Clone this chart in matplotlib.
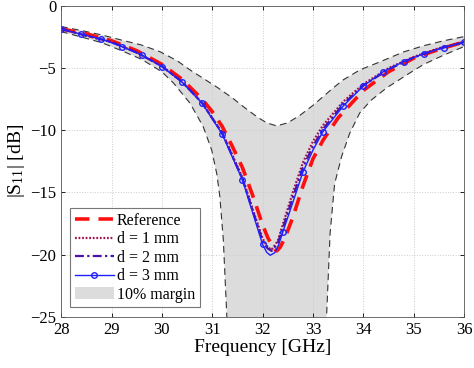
import numpy as np
import matplotlib
matplotlib.use("Agg")
import matplotlib.pyplot as plt

plt.rcParams['font.family'] = 'Liberation Serif'
plt.rcParams['mathtext.fontset'] = 'custom'
plt.rcParams['mathtext.rm'] = 'Liberation Serif'
plt.rcParams['mathtext.it'] = 'Liberation Serif:italic'

# reference curve
f_ref = [28, 28.5, 29, 29.5, 30, 30.4, 30.8, 31.0, 31.2, 31.4, 31.6, 31.8, 32.0, 32.1,
         32.2, 32.28, 32.35, 32.45, 32.6, 32.8, 33.0, 33.2, 33.5, 34.0, 34.5, 35.0, 35.5, 36.0]
s_ref = [-1.85, -2.25, -2.8, -3.6, -4.7, -5.9, -7.5, -8.5, -9.7, -11.3, -13.0, -15.2, -17.6, -18.6,
         -19.4, -19.7, -19.4, -18.6, -17.0, -14.5, -12.3, -10.8, -9.0, -6.8, -5.3, -4.2, -3.5, -2.9]

# d = 1 mm and d = 2 mm
f_d12 = [28, 28.5, 29, 29.5, 30, 30.4, 30.8, 31.2, 31.6, 31.8, 32.0, 32.1, 32.18, 32.3, 32.4,
         32.6, 32.8, 33.0, 33.2, 33.6, 34.0, 34.5, 35.0, 35.5, 36.0]
s_d1 = [-1.85, -2.4, -2.9, -3.75, -4.85, -6.1, -7.8, -10.2, -13.8, -16.3, -18.7, -19.4, -19.6, -18.9, -17.6,
        -15.0, -12.6, -10.9, -9.6, -7.7, -6.3, -5.0, -4.1, -3.4, -2.9]
s_d2 = [-1.85, -2.4, -2.9, -3.75, -4.85, -6.1, -7.8, -10.25, -13.9, -16.4, -18.9, -19.5, -19.7, -19.1, -17.9,
        -15.4, -13.0, -11.3, -9.9, -7.9, -6.4, -5.1, -4.15, -3.45, -2.92]

# d = 3 mm
f_d3 = [28, 28.4, 28.8, 29.2, 29.6, 30.0, 30.4, 30.8, 31.2, 31.6, 31.8, 32.0, 32.08, 32.15,
        32.24, 32.32, 32.4, 32.6, 32.8, 33.0, 33.2, 33.6, 34.0, 34.4, 34.8, 35.2, 35.6, 36.0]
s_d3 = [-1.88, -2.28, -2.66, -3.27, -3.94, -4.88, -6.12, -7.83, -10.33, -14.0, -16.6, -19.18, -19.8, -20.05,
        -19.85, -19.2, -18.2, -15.8, -13.36, -11.6, -10.1, -8.05, -6.44, -5.28, -4.48, -3.84, -3.35, -2.92]

# 10% margin, upper edge
f_hi = [28, 28.4, 28.8, 29.2, 29.6, 29.96, 30.3, 30.56, 30.85, 31.1, 31.4, 31.65, 31.9, 32.08,
        32.28, 32.5, 32.74, 33.0, 33.2, 33.4, 33.6, 33.93, 34.33, 34.8, 35.2, 35.6, 36.0]
s_hi = [-1.66, -1.98, -2.33, -2.75, -3.15, -3.68, -4.4, -5.15, -5.9, -6.55, -7.4, -8.2, -8.95, -9.4,
        -9.65, -9.4, -8.8, -8.0, -7.3, -6.6, -5.95, -5.15, -4.5, -3.7, -3.2, -2.8, -2.47]

# 10% margin, lower edge
f_lo = [28, 28.4, 28.8, 29.2, 29.6, 30.0, 30.23, 30.56, 30.82, 30.99, 31.09, 31.15, 31.22, 31.29,
        31.35, 33.22, 33.27, 33.34, 33.43, 33.57, 33.73, 33.93, 34.15, 34.46, 34.92, 35.2, 35.6, 36.0]
s_lo = [-2.07, -2.5, -2.95, -3.6, -4.3, -5.3, -6.2, -7.83, -9.7, -11.6, -13.5, -15.3, -18.8, -25,
        -35, -35, -25, -18.3, -14.3, -12.1, -10.24, -8.6, -7.6, -6.6, -5.4, -4.7, -3.95, -3.27]

fig, ax = plt.subplots(figsize=(4.74, 3.68), dpi=100)
fig.subplots_adjust(left=0.129, right=0.979, top=0.984, bottom=0.139)

ax.fill(np.r_[f_hi, f_lo[::-1]], np.r_[s_hi, s_lo[::-1]], color='#dcdcdc', lw=0, label='10% margin')
ax.plot(f_hi, s_hi, color='#333333', lw=0.8, ls=(0, (6, 4)))
ax.plot(f_lo, s_lo, color='#333333', lw=0.8, ls=(0, (6, 4)))

ax.plot(f_ref, s_ref, color='#ff1010', lw=2.6, ls=(0, (4, 2.5)), label='Reference')
ax.plot(f_d12, s_d1, color='#a0104a', lw=1.6, ls=(0, (0.8, 0.8)), label='d = 1 mm')
ax.plot(f_d12, s_d2, color='#4a12a8', lw=1.6, ls=(0, (4, 1.5, 1, 1.5)), label='d = 2 mm')
f3 = np.array(f_d3)
marks = np.isclose((f3 - 28) / 0.4, np.round((f3 - 28) / 0.4))
ax.plot(f_d3, s_d3, color='#2020ff', lw=1.0, marker='o', ms=4, mfc='none', mew=1.0,
        markevery=list(marks), label='d = 3 mm')

ax.set_xlim(28, 36)
ax.set_ylim(-25, 0)
ax.set_xticks(range(28, 37))
ax.set_yticks([-25, -20, -15, -10, -5, 0])
ax.grid(True, color='#cccccc', ls=':', lw=0.7)
ax.tick_params(direction='in', top=True, right=True, labelsize=12, length=3, width=0.6)
for sp in ax.spines.values():
    sp.set_linewidth(0.6)
    sp.set_color('#555555')

ax.set_xlabel('Frequency [GHz]', fontsize=14, labelpad=1)
ax.set_ylabel('|S$_{11}$| [dB]', fontsize=14, labelpad=2)

h, l = ax.get_legend_handles_labels()
order = [1, 2, 3, 4, 0]
leg = ax.legend([h[i] for i in order], [l[i] for i in order], loc='lower left',
                bbox_to_anchor=(0.015, 0.02), fontsize=11.5, fancybox=False, handlelength=2.4,
                handletextpad=0.2, labelspacing=0.15, borderpad=0.3, borderaxespad=0.2)
leg.get_frame().set_edgecolor('#555555')
leg.get_frame().set_linewidth(0.8)

plt.savefig('out.png', dpi=100)
